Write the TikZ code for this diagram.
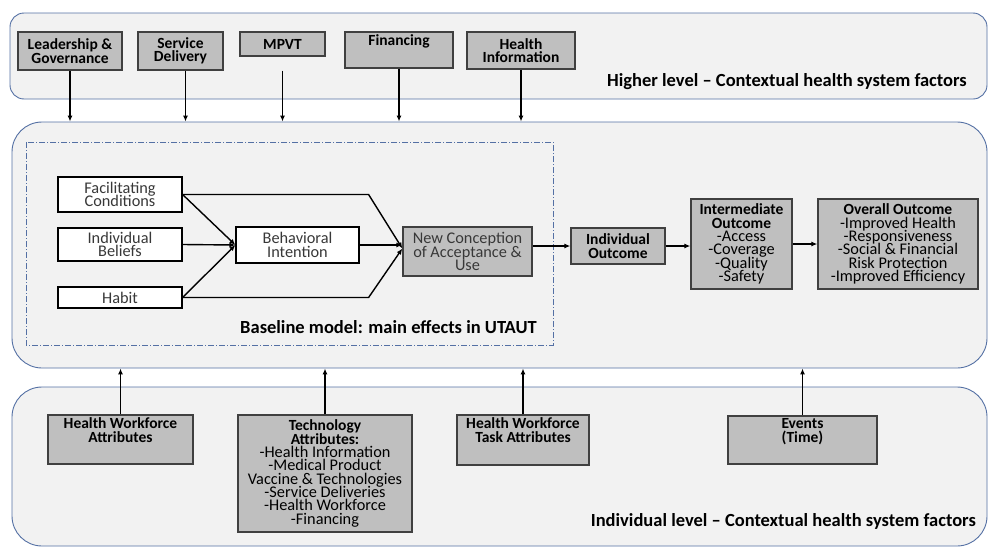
\documentclass[tikz,border=0pt]{standalone}
\usepackage{fontspec}
\setmainfont{Carlito}
\usetikzlibrary{arrows.meta}
\definecolor{panelfill}{RGB}{242,242,242}
\definecolor{panelline}{RGB}{84,112,164}
\definecolor{boxgray}{RGB}{191,191,191}
\definecolor{boxline}{RGB}{64,64,64}
\definecolor{txtgray}{RGB}{56,56,56}
\newcommand{\boxfont}{\fontsize{15.5}{13.3}\selectfont\lineskiplimit=-20pt\relax}
\newcommand{\lightfont}{\fontsize{16.3}{13.3}\selectfont\lineskiplimit=-20pt\relax}
\newcommand{\rg}[1]{{\lightfont\mdseries #1}}
\begin{document}
\begin{tikzpicture}[x=1pt,y=-1pt,
  panel/.style={draw=panelline,fill=panelfill,line width=0.9pt,rounded corners=#1},
  gbox/.style={draw=boxline,fill=boxgray,line width=1.3pt,inner sep=0pt,align=center,font=\boxfont\bfseries},
  wbox/.style={draw=black,fill=white,line width=1.2pt,inner sep=0pt,align=center,text=txtgray,font=\lightfont},
  toptxt/.style={anchor=north,align=center,font=\boxfont\bfseries},
  lvl/.style={font=\fontsize{18.5}{20}\selectfont\bfseries,inner sep=0pt},
  arr/.style={line width=1.4pt,-{Latex[length=6pt,width=5pt]}}]
\useasboundingbox (0,0) rectangle (1000,557);
\node[panel=14,minimum width=977,minimum height=86] (high) at (498.5,56) {};
\node[panel=30,minimum width=975,minimum height=246] (mid) at (499.5,245) {};
\node[panel=30,minimum width=975,minimum height=159] (low) at (499.5,466.5) {};
\draw[panelline,line width=0.8pt,dash pattern=on 6pt off 2pt on 1pt off 2pt] (26,142) rectangle (553,345);
\node[lvl,anchor=base east] (hightxt) at (967,86) {Higher level -- Contextual health system factors};
\node[lvl,anchor=base east] (basetxt) at (537,333) {Baseline model: main effects in UTAUT};
\node[lvl,anchor=base east] (lowtxt) at (976,526) {Individual level -- Contextual health system factors};
\node[gbox,minimum width=104,minimum height=38] (lead) at (70,51) {Leadership \&\\Governance};
\node[gbox,minimum width=85,minimum height=38] (serv) at (180.5,51) {Service\\Delivery};
\node[gbox,minimum width=85,minimum height=24] (mpvt) at (282.5,44) {MPVT};
\node[gbox,minimum width=108,minimum height=36,label={[toptxt]north:Financing}] (fin) at (399,50) {};
\node[gbox,minimum width=108,minimum height=37] (hinfo) at (521,50.5) {Health\\Information};
\node[wbox,minimum width=124,minimum height=35] (fc) at (120,194.5) {Facilitating\\Conditions};
\node[wbox,minimum width=124,minimum height=33] (ib) at (120,244.5) {Individual\\Beliefs};
\node[wbox,minimum width=124,minimum height=21] (hab) at (120,297.5) {Habit};
\node[wbox,minimum width=123,minimum height=36] (bi) at (297.5,245) {Behavioral\\Intention};
\node[gbox,minimum width=129,minimum height=49,font=\lightfont,text=txtgray] (nc) at (467.5,251.5) {New Conception\\of Acceptance \&\\Use};
\node[gbox,minimum width=94,minimum height=36] (io) at (618,246) {Individual\\Outcome};
\node[gbox,minimum width=101,minimum height=90] (inter) at (741.5,244) {Intermediate\\Outcome\\\rg{-Access}\\\rg{-Coverage}\\\rg{-Quality}\\\rg{-Safety}};
\node[gbox,minimum width=160,minimum height=90] (over) at (898,244) {Overall Outcome\\\rg{-Improved Health}\\\rg{-Responsiveness}\\\rg{-Social \& Financial}\\\rg{Risk Protection}\\\rg{-Improved Efficiency}};
\node[gbox,minimum width=145,minimum height=49,label={[toptxt]north:Health Workforce\\Attributes}] (hwa) at (120.5,439.5) {};
\node[gbox,minimum width=174,minimum height=117] (tech) at (325,473.5) {Technology\\Attributes:\\\rg{-Health Information}\\\rg{-Medical Product}\\\rg{Vaccine \& Technologies}\\\rg{-Service Deliveries}\\\rg{-Health Workforce}\\\rg{-Financing}};
\node[gbox,minimum width=132,minimum height=50,label={[toptxt]north:Health Workforce\\Task Attributes}] (hwta) at (523,440) {};
\node[gbox,minimum width=149,minimum height=48,label={[toptxt]north:Events\\(Time)}] (ev) at (802.5,440) {};
\draw[arr] (lead.south) -- (lead.south |- mid.north);
\draw[arr] ([xshift=5pt]serv.south) -- ([xshift=5pt]serv.south |- mid.north);
\draw[arr] ([yshift=-14pt]mpvt.south) -- (mpvt.south |- mid.north);
\draw[arr] (fin.south) -- (fin.south |- mid.north);
\draw[arr] (hinfo.south) -- (hinfo.south |- mid.north);
\draw[arr] (fc.east) -- (bi.west);
\draw[arr] (ib.east) -- (bi.west);
\draw[arr] (hab.east) -- (bi.west);
\draw[arr] (fc.east) -- ++(186,0) -- ([yshift=3pt]nc.west);
\draw[arr] (hab.east) -- ++(186,0) -- ([yshift=3pt]nc.west);
\draw[arr] (bi.east) -- (bi.east -| nc.west);
\draw[arr] (nc.east |- io.west) -- (io.west);
\draw[arr] (io.east) -- (io.east -| inter.west);
\draw[arr] (inter.east) -- (over.west);
\draw[arr] (hwa.north) -- (hwa.north |- mid.south);
\draw[arr] (tech.north) -- (tech.north |- mid.south);
\draw[arr] (hwta.north) -- (hwta.north |- mid.south);
\draw[arr] (ev.north) -- (ev.north |- mid.south);
\end{tikzpicture}
\end{document}
